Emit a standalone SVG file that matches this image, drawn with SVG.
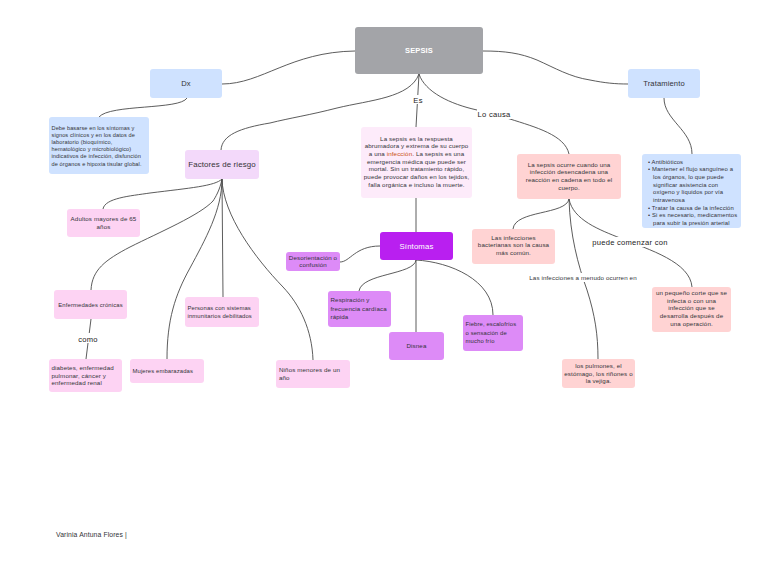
<svg xmlns="http://www.w3.org/2000/svg" width="768" height="567" viewBox="0 0 768 567">
<style>
text{font-family:"Liberation Sans",Arial,sans-serif;font-size:6.2px;fill:#333338;letter-spacing:.12px}
.m{text-anchor:middle}
.blue{fill:#cfe2ff}.lil{fill:#f3d9fa}.pale{fill:#fdebfa}.pink{fill:#fdd3f3}.red{fill:#ffd3d3}.pur{fill:#dd8bf7}
.c{fill:none;stroke:#4a4a4a;stroke-width:.9}
.lb{fill:#222;font-size:7.6px;letter-spacing:.25px}
.h{font-size:7.6px}
.s{font-size:5.6px;letter-spacing:.1px}
.t{font-size:5.9px}
</style>
<rect width="768" height="567" fill="#fff"/>
<g id="connectors">
<path class="c" d="M222 84C262 84 290 52 355 51"/>
<path class="c" d="M187 98C180 110 110 104 99 117"/>
<path class="c" d="M419 74C410 98 370 100 337 108C310 115 290 118 270 123C240 128 222 135 221 150"/>
<path class="c" d="M419 74L416 127"/>
<path class="c" d="M419 74C425 92 450 104 477 110C490 113 500 116 510 119C535 127 565 135 569 154"/>
<path class="c" d="M483 51C505 51 520 53 537 60C555 68 570 77 590 80C605 83 615 84 628 84"/>
<path class="c" d="M664 98C664 120 692 130 692 154"/>
<path class="c" d="M222 179C215 186 190 188 150 193C130 196 105 198 103 209"/>
<path class="c" d="M222 179C220 190 215 198 213 201C200 215 160 232 130 247C105 260 92 270 91 290"/>
<path class="c" d="M222 179C222 210 205 240 190 268C175 295 167 320 167 359"/>
<path class="c" d="M222 179L223 297"/>
<path class="c" d="M222 179C223 215 255 258 283 287C300 305 312 330 313 360"/>
<path class="c" d="M91 319L86 359"/>
<path class="c" d="M416 198V232" stroke-width="1.2"/>
<path class="c" d="M380 246C355 246 350 262 340 262"/>
<path class="c" d="M416 260C414 275 362 273 359 291"/>
<path class="c" d="M416 260V332" stroke-width="1.2"/>
<path class="c" d="M416 260C450 262 493 280 493 315"/>
<path class="c" d="M569 199C566 215 515 210 513 229"/>
<path class="c" d="M569 199C570 235 578 265 587 290C595 315 598 335 598 359"/>
<path class="c" d="M569 199C573 220 600 230 620 238C650 250 690 262 692 287"/>
</g>
<g id="sepsis"><rect x="355" y="27" width="128" height="47" rx="3" fill="#a3a4a8"/><text class="m" x="419" y="53" style="fill:#fff;font-weight:bold;font-size:7.5px">SEPSIS</text></g>
<g id="dx"><rect class="blue" x="150" y="69" width="72" height="29" rx="3"/><text class="m h" x="186" y="85.500">Dx</text></g>
<g id="dx-text"><rect class="blue" x="49" y="117" width="100" height="57" rx="3"/>
<text class="s" x="51.500" y="129.500">Debe basarse en los síntomas y</text><text class="s" x="51.500" y="136.700">signos clínicos y en los datos de</text><text class="s" x="51.500" y="143.900">laboratorio (bioquímico,</text><text class="s" x="51.500" y="151.100">hematológico y microbiológico)</text><text class="s" x="51.500" y="158.300">indicativos de infección, disfunción</text><text class="s" x="51.500" y="165.500">de órganos e hipoxia tisular global.</text></g>
<g id="factores"><rect class="lil" x="185" y="150" width="74" height="29" rx="3"/><text class="m" x="222" y="166.500" style="font-size:7.900px">Factores de riesgo</text></g>
<g id="tratamiento"><rect class="blue" x="628" y="69" width="72" height="29" rx="3"/><text class="m h" x="664" y="85.500">Tratamiento</text></g>
<g id="tratamiento-text"><rect class="blue" x="642" y="154" width="99" height="74" rx="3"/>
<text class="t" x="648" y="163.500">•  Antibióticos</text><text class="t" x="648" y="171.200">•  Mantener el flujo sanguíneo a</text><text class="t" x="653" y="178.900">los órganos, lo que puede</text><text class="t" x="653" y="186.600">significar asistencia con</text><text class="t" x="653" y="194.300">oxígeno y líquidos por vía</text><text class="t" x="653" y="202">intravenosa</text><text class="t" x="648" y="209.700">•  Tratar la causa de la infección</text><text class="t" x="648" y="217.400">•  Si es necesario, medicamentos</text><text class="t" x="653" y="225.100">para subir la presión arterial</text></g>
<g id="definicion"><rect class="pale" x="361" y="127" width="111" height="71" rx="3"/>
<text class="m" x="416.500" y="140.500">La sepsis es la respuesta</text><text class="m" x="416.500" y="148.200">abrumadora y extrema de su cuerpo</text><text class="m" x="416.500" y="155.900">a una <tspan fill="#c8500a">infección</tspan>. La sepsis es una</text><text class="m" x="416.500" y="163.600">emergencia médica que puede ser</text><text class="m" x="416.500" y="171.300">mortal. Sin un tratamiento rápido,</text><text class="m" x="416.500" y="179">puede provocar daños en los tejidos,</text><text class="m" x="416.500" y="186.700">falla orgánica e incluso la muerte.</text></g>
<g id="causa"><rect class="red" x="517" y="154" width="104" height="45" rx="3"/>
<text class="m" x="569" y="166.500">La sepsis ocurre cuando una</text><text class="m" x="569" y="174.200">infección desencadena una</text><text class="m" x="569" y="181.900">reacción en cadena en todo el</text><text class="m" x="569" y="189.600">cuerpo.</text></g>
<g id="adultos"><rect class="pink" x="67" y="209" width="73" height="28" rx="3"/><text class="m" x="103.500" y="221">Adultos mayores de 65</text><text class="m" x="103.500" y="229">años</text></g>
<g id="cronicas"><rect class="pink" x="54" y="290" width="73" height="29" rx="3"/><text class="m t" x="90.500" y="306.500">Enfermedades crónicas</text></g>
<g id="diabetes"><rect class="pink" x="49" y="359" width="73" height="33" rx="3"/><text x="51.500" y="369.800">diabetes, enfermedad</text><text x="51.500" y="377.600">pulmonar, cáncer y</text><text x="51.500" y="385.400">enfermedad renal</text></g>
<g id="mujeres"><rect class="pink" x="130" y="359" width="74" height="24" rx="3"/><text class="t" x="132.500" y="372.500">Mujeres embarazadas</text></g>
<g id="personas"><rect class="pink" x="185" y="297" width="74" height="30" rx="3"/><text class="t" x="187.500" y="309.500">Personas con sistemas</text><text class="t" x="187.500" y="317.500">inmunitarios debilitados</text></g>
<g id="ninos"><rect class="pink" x="276" y="360" width="74" height="28" rx="3"/><text x="279" y="371.500">Niños menores de un</text><text x="279" y="380">año</text></g>
<g id="sintomas"><rect x="380" y="232" width="73" height="28" rx="3" fill="#b91ff0"/><text class="m" x="416.500" y="248.500" style="fill:#fff;font-size:7.800px">Síntomas</text></g>
<g id="desorientacion"><rect class="pur" x="286" y="252" width="54" height="19" rx="3"/><text class="m" x="313" y="260">Desorientación o</text><text class="m" x="313" y="267">confusión</text></g>
<g id="respiracion"><rect class="pur" x="328" y="291" width="63" height="36" rx="3"/><text x="330.500" y="302">Respiración y</text><text x="330.500" y="310.500">frecuencia cardíaca</text><text x="330.500" y="319">rápida</text></g>
<g id="disnea"><rect class="pur" x="389" y="332" width="55" height="28" rx="3"/><text class="m" x="416.500" y="348">Disnea</text></g>
<g id="fiebre"><rect class="pur" x="463" y="315" width="60" height="36" rx="3"/><text class="t" x="465.500" y="326">Fiebre, escalofríos</text><text class="t" x="465.500" y="334.500">o sensación de</text><text class="t" x="465.500" y="343">mucho frío</text></g>
<g id="bacterianas"><rect class="red" x="472" y="229" width="83" height="35" rx="3"/><text class="m" x="513.500" y="239.500">Las infecciones</text><text class="m" x="513.500" y="247.300">bacterianas son la causa</text><text class="m" x="513.500" y="255">más común.</text></g>
<g id="pulmones"><rect class="red" x="562" y="359" width="73" height="29" rx="3"/><text class="m" x="598.500" y="368">los pulmones, el</text><text class="m" x="598.500" y="375.700">estómago, los riñones o</text><text class="m" x="598.500" y="383.400">la vejiga.</text></g>
<g id="corte"><rect class="red" x="652" y="287" width="79" height="45" rx="3"/><text class="m" x="691.500" y="295">un pequeño corte que se</text><text class="m" x="691.500" y="302.700">infecta o con una</text><text class="m" x="691.500" y="310.400">infección que se</text><text class="m" x="691.500" y="318.100">desarrolla después de</text><text class="m" x="691.500" y="325.800">una operación.</text></g>
<g id="labels">
<rect x="412" y="95" width="12" height="9" fill="#fff"/><text class="lb m" x="418" y="103">Es</text>
<rect x="477" y="109" width="35" height="10" fill="#fff"/><text class="lb m" x="494" y="117">Lo causa</text>
<rect x="77" y="333" width="22" height="10" fill="#fff"/><text class="lb m" x="88" y="341.500">como</text>
<rect x="530" y="273" width="108" height="9" fill="#fff"/><text class="m" x="583" y="280">Las infecciones a menudo ocurren en</text>
<rect x="591" y="237" width="78" height="10" fill="#fff"/><text class="lb m" x="630" y="245">puede comenzar con</text>
<text x="56" y="537" style="font-size:6.800px">Varinia Antuna Flores  |</text>
</g>
</svg>
